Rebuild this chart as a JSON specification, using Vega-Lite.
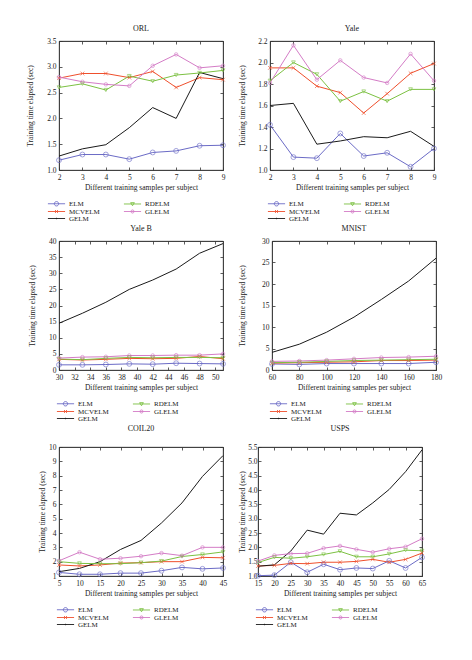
{
  "$schema": "https://vega.github.io/schema/vega-lite/v6.json",
  "background": "white",
  "padding": {"left": 26, "top": 24, "right": 0, "bottom": 0},
  "config": {
    "font": "Liberation Serif",
    "view": {"stroke": "#333", "strokeWidth": 0.8},
    "axis": {"labelFont": "Liberation Serif", "labelFontSize": 7.5, "labelColor": "#222", "titleFont": "Liberation Serif", "titleFontSize": 7.5, "titleFontWeight": "normal", "titleColor": "#222", "domainColor": "#333", "domainWidth": 0.8, "tickColor": "#333", "tickWidth": 0.8, "tickSize": -3, "labelPadding": 6, "grid": false, "labelFlush": false, "labelOverlap": false},
    "title": {"font": "Liberation Serif", "fontSize": 8, "fontWeight": "normal", "color": "#222", "offset": 4},
    "legend": {"orient": "none", "legendX": 3, "legendY": 159, "direction": "horizontal", "columns": 2, "title": null, "labelFont": "Liberation Serif", "labelFontSize": 7, "labelColor": "#222", "symbolSize": 36, "symbolStrokeWidth": 0.9, "symbolOpacity": 1, "labelOffset": 9, "columnPadding": 22, "rowPadding": -2}
  },
  "datasets": {
    "orl": [
      {"samples": 2, "method": "ELM", "time": 1.19}, {"samples": 3, "method": "ELM", "time": 1.30}, {"samples": 4, "method": "ELM", "time": 1.30}, {"samples": 5, "method": "ELM", "time": 1.21}, {"samples": 6, "method": "ELM", "time": 1.34}, {"samples": 7, "method": "ELM", "time": 1.37}, {"samples": 8, "method": "ELM", "time": 1.47}, {"samples": 9, "method": "ELM", "time": 1.48},
      {"samples": 2, "method": "MCVELM", "time": 2.78}, {"samples": 3, "method": "MCVELM", "time": 2.87}, {"samples": 4, "method": "MCVELM", "time": 2.87}, {"samples": 5, "method": "MCVELM", "time": 2.79}, {"samples": 6, "method": "MCVELM", "time": 2.91}, {"samples": 7, "method": "MCVELM", "time": 2.60}, {"samples": 8, "method": "MCVELM", "time": 2.79}, {"samples": 9, "method": "MCVELM", "time": 2.75},
      {"samples": 2, "method": "GELM", "time": 1.27}, {"samples": 3, "method": "GELM", "time": 1.41}, {"samples": 4, "method": "GELM", "time": 1.49}, {"samples": 5, "method": "GELM", "time": 1.82}, {"samples": 6, "method": "GELM", "time": 2.21}, {"samples": 7, "method": "GELM", "time": 2.00}, {"samples": 8, "method": "GELM", "time": 2.89}, {"samples": 9, "method": "GELM", "time": 2.77},
      {"samples": 2, "method": "RDELM", "time": 2.60}, {"samples": 3, "method": "RDELM", "time": 2.67}, {"samples": 4, "method": "RDELM", "time": 2.55}, {"samples": 5, "method": "RDELM", "time": 2.82}, {"samples": 6, "method": "RDELM", "time": 2.72}, {"samples": 7, "method": "RDELM", "time": 2.84}, {"samples": 8, "method": "RDELM", "time": 2.88}, {"samples": 9, "method": "RDELM", "time": 2.93},
      {"samples": 2, "method": "GLELM", "time": 2.80}, {"samples": 3, "method": "GLELM", "time": 2.71}, {"samples": 4, "method": "GLELM", "time": 2.66}, {"samples": 5, "method": "GLELM", "time": 2.63}, {"samples": 6, "method": "GLELM", "time": 3.02}, {"samples": 7, "method": "GLELM", "time": 3.24}, {"samples": 8, "method": "GLELM", "time": 2.98}, {"samples": 9, "method": "GLELM", "time": 3.02}
    ],
    "yale": [
      {"samples": 2, "method": "ELM", "time": 1.42}, {"samples": 3, "method": "ELM", "time": 1.12}, {"samples": 4, "method": "ELM", "time": 1.11}, {"samples": 5, "method": "ELM", "time": 1.34}, {"samples": 6, "method": "ELM", "time": 1.13}, {"samples": 7, "method": "ELM", "time": 1.16}, {"samples": 8, "method": "ELM", "time": 1.03}, {"samples": 9, "method": "ELM", "time": 1.20},
      {"samples": 2, "method": "MCVELM", "time": 1.95}, {"samples": 3, "method": "MCVELM", "time": 1.95}, {"samples": 4, "method": "MCVELM", "time": 1.78}, {"samples": 5, "method": "MCVELM", "time": 1.72}, {"samples": 6, "method": "MCVELM", "time": 1.53}, {"samples": 7, "method": "MCVELM", "time": 1.71}, {"samples": 8, "method": "MCVELM", "time": 1.90}, {"samples": 9, "method": "MCVELM", "time": 1.99},
      {"samples": 2, "method": "GELM", "time": 1.60}, {"samples": 3, "method": "GELM", "time": 1.62}, {"samples": 4, "method": "GELM", "time": 1.24}, {"samples": 5, "method": "GELM", "time": 1.27}, {"samples": 6, "method": "GELM", "time": 1.31}, {"samples": 7, "method": "GELM", "time": 1.30}, {"samples": 8, "method": "GELM", "time": 1.36}, {"samples": 9, "method": "GELM", "time": 1.22},
      {"samples": 2, "method": "RDELM", "time": 1.83}, {"samples": 3, "method": "RDELM", "time": 2.00}, {"samples": 4, "method": "RDELM", "time": 1.89}, {"samples": 5, "method": "RDELM", "time": 1.64}, {"samples": 6, "method": "RDELM", "time": 1.73}, {"samples": 7, "method": "RDELM", "time": 1.64}, {"samples": 8, "method": "RDELM", "time": 1.75}, {"samples": 9, "method": "RDELM", "time": 1.75},
      {"samples": 2, "method": "GLELM", "time": 1.81}, {"samples": 3, "method": "GLELM", "time": 2.16}, {"samples": 4, "method": "GLELM", "time": 1.84}, {"samples": 5, "method": "GLELM", "time": 2.02}, {"samples": 6, "method": "GLELM", "time": 1.86}, {"samples": 7, "method": "GLELM", "time": 1.81}, {"samples": 8, "method": "GLELM", "time": 2.08}, {"samples": 9, "method": "GLELM", "time": 1.83}
    ],
    "yaleb": [
      {"samples": 30, "method": "ELM", "time": 1.6}, {"samples": 33, "method": "ELM", "time": 1.6}, {"samples": 36, "method": "ELM", "time": 1.7}, {"samples": 39, "method": "ELM", "time": 1.9}, {"samples": 42, "method": "ELM", "time": 1.8}, {"samples": 45, "method": "ELM", "time": 2.1}, {"samples": 48, "method": "ELM", "time": 2.0}, {"samples": 51, "method": "ELM", "time": 1.9},
      {"samples": 30, "method": "MCVELM", "time": 3.3}, {"samples": 33, "method": "MCVELM", "time": 3.1}, {"samples": 36, "method": "MCVELM", "time": 3.3}, {"samples": 39, "method": "MCVELM", "time": 3.6}, {"samples": 42, "method": "MCVELM", "time": 3.5}, {"samples": 45, "method": "MCVELM", "time": 3.6}, {"samples": 48, "method": "MCVELM", "time": 4.2}, {"samples": 51, "method": "MCVELM", "time": 3.5},
      {"samples": 30, "method": "GELM", "time": 14.5}, {"samples": 33, "method": "GELM", "time": 17.6}, {"samples": 36, "method": "GELM", "time": 21.0}, {"samples": 39, "method": "GELM", "time": 25.0}, {"samples": 42, "method": "GELM", "time": 27.9}, {"samples": 45, "method": "GELM", "time": 31.3}, {"samples": 48, "method": "GELM", "time": 36.2}, {"samples": 51, "method": "GELM", "time": 39.2},
      {"samples": 30, "method": "RDELM", "time": 3.4}, {"samples": 33, "method": "RDELM", "time": 3.2}, {"samples": 36, "method": "RDELM", "time": 3.6}, {"samples": 39, "method": "RDELM", "time": 3.9}, {"samples": 42, "method": "RDELM", "time": 3.8}, {"samples": 45, "method": "RDELM", "time": 3.9}, {"samples": 48, "method": "RDELM", "time": 3.9}, {"samples": 51, "method": "RDELM", "time": 3.8},
      {"samples": 30, "method": "GLELM", "time": 3.7}, {"samples": 33, "method": "GLELM", "time": 4.0}, {"samples": 36, "method": "GLELM", "time": 4.1}, {"samples": 39, "method": "GLELM", "time": 4.5}, {"samples": 42, "method": "GLELM", "time": 4.5}, {"samples": 45, "method": "GLELM", "time": 4.6}, {"samples": 48, "method": "GLELM", "time": 4.6}, {"samples": 51, "method": "GLELM", "time": 5.0}
    ],
    "mnist": [
      {"samples": 60, "method": "ELM", "time": 1.4}, {"samples": 80, "method": "ELM", "time": 1.3}, {"samples": 100, "method": "ELM", "time": 1.5}, {"samples": 120, "method": "ELM", "time": 1.5}, {"samples": 140, "method": "ELM", "time": 1.5}, {"samples": 160, "method": "ELM", "time": 1.5}, {"samples": 180, "method": "ELM", "time": 1.8},
      {"samples": 60, "method": "MCVELM", "time": 1.6}, {"samples": 80, "method": "MCVELM", "time": 1.7}, {"samples": 100, "method": "MCVELM", "time": 1.8}, {"samples": 120, "method": "MCVELM", "time": 1.9}, {"samples": 140, "method": "MCVELM", "time": 2.2}, {"samples": 160, "method": "MCVELM", "time": 2.2}, {"samples": 180, "method": "MCVELM", "time": 2.3},
      {"samples": 60, "method": "GELM", "time": 4.1}, {"samples": 80, "method": "GELM", "time": 6.0}, {"samples": 100, "method": "GELM", "time": 8.8}, {"samples": 120, "method": "GELM", "time": 12.3}, {"samples": 140, "method": "GELM", "time": 16.4}, {"samples": 160, "method": "GELM", "time": 20.7}, {"samples": 180, "method": "GELM", "time": 26.0},
      {"samples": 60, "method": "RDELM", "time": 1.7}, {"samples": 80, "method": "RDELM", "time": 1.8}, {"samples": 100, "method": "RDELM", "time": 2.0}, {"samples": 120, "method": "RDELM", "time": 2.2}, {"samples": 140, "method": "RDELM", "time": 2.3}, {"samples": 160, "method": "RDELM", "time": 2.4}, {"samples": 180, "method": "RDELM", "time": 2.5},
      {"samples": 60, "method": "GLELM", "time": 2.0}, {"samples": 80, "method": "GLELM", "time": 2.1}, {"samples": 100, "method": "GLELM", "time": 2.3}, {"samples": 120, "method": "GLELM", "time": 2.6}, {"samples": 140, "method": "GLELM", "time": 2.9}, {"samples": 160, "method": "GLELM", "time": 3.0}, {"samples": 180, "method": "GLELM", "time": 3.2}
    ],
    "coil20": [
      {"samples": 5, "method": "ELM", "time": 1.25}, {"samples": 10, "method": "ELM", "time": 1.12}, {"samples": 15, "method": "ELM", "time": 1.12}, {"samples": 20, "method": "ELM", "time": 1.2}, {"samples": 25, "method": "ELM", "time": 1.2}, {"samples": 30, "method": "ELM", "time": 1.37}, {"samples": 35, "method": "ELM", "time": 1.6}, {"samples": 40, "method": "ELM", "time": 1.5}, {"samples": 45, "method": "ELM", "time": 1.56},
      {"samples": 5, "method": "MCVELM", "time": 1.77}, {"samples": 10, "method": "MCVELM", "time": 1.7}, {"samples": 15, "method": "MCVELM", "time": 1.77}, {"samples": 20, "method": "MCVELM", "time": 1.9}, {"samples": 25, "method": "MCVELM", "time": 1.93}, {"samples": 30, "method": "MCVELM", "time": 2.0}, {"samples": 35, "method": "MCVELM", "time": 2.0}, {"samples": 40, "method": "MCVELM", "time": 2.3}, {"samples": 45, "method": "MCVELM", "time": 2.27},
      {"samples": 5, "method": "GELM", "time": 1.3}, {"samples": 10, "method": "GELM", "time": 1.53}, {"samples": 15, "method": "GELM", "time": 2.0}, {"samples": 20, "method": "GELM", "time": 2.85}, {"samples": 25, "method": "GELM", "time": 3.48}, {"samples": 30, "method": "GELM", "time": 4.7}, {"samples": 35, "method": "GELM", "time": 6.1}, {"samples": 40, "method": "GELM", "time": 7.95}, {"samples": 45, "method": "GELM", "time": 9.4},
      {"samples": 5, "method": "RDELM", "time": 2.0}, {"samples": 10, "method": "RDELM", "time": 1.88}, {"samples": 15, "method": "RDELM", "time": 1.86}, {"samples": 20, "method": "RDELM", "time": 1.86}, {"samples": 25, "method": "RDELM", "time": 1.93}, {"samples": 30, "method": "RDELM", "time": 2.04}, {"samples": 35, "method": "RDELM", "time": 2.36}, {"samples": 40, "method": "RDELM", "time": 2.5}, {"samples": 45, "method": "RDELM", "time": 2.68},
      {"samples": 5, "method": "GLELM", "time": 2.06}, {"samples": 10, "method": "GLELM", "time": 2.66}, {"samples": 15, "method": "GLELM", "time": 2.17}, {"samples": 20, "method": "GLELM", "time": 2.24}, {"samples": 25, "method": "GLELM", "time": 2.38}, {"samples": 30, "method": "GLELM", "time": 2.6}, {"samples": 35, "method": "GLELM", "time": 2.42}, {"samples": 40, "method": "GLELM", "time": 3.0}, {"samples": 45, "method": "GLELM", "time": 3.0}
    ],
    "usps": [
      {"samples": 15, "method": "ELM", "time": 1.01}, {"samples": 20, "method": "ELM", "time": 1.03}, {"samples": 25, "method": "ELM", "time": 1.48}, {"samples": 30, "method": "ELM", "time": 1.13}, {"samples": 35, "method": "ELM", "time": 1.41}, {"samples": 40, "method": "ELM", "time": 1.22}, {"samples": 45, "method": "ELM", "time": 1.28}, {"samples": 50, "method": "ELM", "time": 1.26}, {"samples": 55, "method": "ELM", "time": 1.53}, {"samples": 60, "method": "ELM", "time": 1.28}, {"samples": 65, "method": "ELM", "time": 1.65},
      {"samples": 15, "method": "MCVELM", "time": 1.35}, {"samples": 20, "method": "MCVELM", "time": 1.37}, {"samples": 25, "method": "MCVELM", "time": 1.44}, {"samples": 30, "method": "MCVELM", "time": 1.43}, {"samples": 35, "method": "MCVELM", "time": 1.48}, {"samples": 40, "method": "MCVELM", "time": 1.48}, {"samples": 45, "method": "MCVELM", "time": 1.51}, {"samples": 50, "method": "MCVELM", "time": 1.58}, {"samples": 55, "method": "MCVELM", "time": 1.48}, {"samples": 60, "method": "MCVELM", "time": 1.58}, {"samples": 65, "method": "MCVELM", "time": 1.8},
      {"samples": 15, "method": "GELM", "time": 1.34}, {"samples": 20, "method": "GELM", "time": 1.39}, {"samples": 25, "method": "GELM", "time": 1.87}, {"samples": 30, "method": "GELM", "time": 2.6}, {"samples": 35, "method": "GELM", "time": 2.46}, {"samples": 40, "method": "GELM", "time": 3.19}, {"samples": 45, "method": "GELM", "time": 3.13}, {"samples": 50, "method": "GELM", "time": 3.55}, {"samples": 55, "method": "GELM", "time": 4.02}, {"samples": 60, "method": "GELM", "time": 4.64}, {"samples": 65, "method": "GELM", "time": 5.4},
      {"samples": 15, "method": "RDELM", "time": 1.47}, {"samples": 20, "method": "RDELM", "time": 1.65}, {"samples": 25, "method": "RDELM", "time": 1.62}, {"samples": 30, "method": "RDELM", "time": 1.67}, {"samples": 35, "method": "RDELM", "time": 1.75}, {"samples": 40, "method": "RDELM", "time": 1.86}, {"samples": 45, "method": "RDELM", "time": 1.67}, {"samples": 50, "method": "RDELM", "time": 1.67}, {"samples": 55, "method": "RDELM", "time": 1.77}, {"samples": 60, "method": "RDELM", "time": 1.9}, {"samples": 65, "method": "RDELM", "time": 1.88},
      {"samples": 15, "method": "GLELM", "time": 1.52}, {"samples": 20, "method": "GLELM", "time": 1.72}, {"samples": 25, "method": "GLELM", "time": 1.78}, {"samples": 30, "method": "GLELM", "time": 1.79}, {"samples": 35, "method": "GLELM", "time": 1.97}, {"samples": 40, "method": "GLELM", "time": 2.05}, {"samples": 45, "method": "GLELM", "time": 1.93}, {"samples": 50, "method": "GLELM", "time": 1.83}, {"samples": 55, "method": "GLELM", "time": 1.95}, {"samples": 60, "method": "GLELM", "time": 2.02}, {"samples": 65, "method": "GLELM", "time": 2.3}
    ]
  },
  "resolve": {"scale": {"color": "independent", "shape": "independent"}, "legend": {"color": "independent", "shape": "independent"}},
  "columns": 2,
  "align": "none",
  "spacing": {"row": 1, "column": 6},
  "concat": [
    {
      "title": "ORL", "width": 164, "height": 129, "data": {"name": "orl"},
      "layer": [
        {"mark": {"type": "line", "strokeWidth": 1},
         "encoding": {
           "x": {"field": "samples", "type": "quantitative", "scale": {"domain": [2, 9], "nice": false, "zero": false}, "axis": {"values": [2, 3, 4, 5, 6, 7, 8, 9], "title": "Different training samples per subject", "titlePadding": 3}},
           "y": {"field": "time", "type": "quantitative", "scale": {"domain": [1, 3.5], "nice": false, "zero": false}, "axis": {"values": [1, 1.5, 2, 2.5, 3, 3.5], "title": "Training time elapsed (sec)", "titlePadding": 12}},
           "color": {"field": "method", "type": "nominal", "scale": {"domain": ["ELM", "RDELM", "MCVELM", "GLELM", "GELM"], "range": ["#6b6bc6", "#7cc142", "#ef4f2c", "#d47cc6", "#1a1a1a"]}}}},
        {"mark": {"type": "point", "filled": false, "strokeWidth": 0.9},
         "transform": [{"filter": "datum.method !== 'GELM'"}],
         "encoding": {
           "x": {"field": "samples", "type": "quantitative", "axis": null},
           "y": {"field": "time", "type": "quantitative", "axis": null},
           "color": {"field": "method", "type": "nominal"},
           "shape": {"condition": [{"test": "datum.method === 'MCVELM'", "value": "M-1,-1L1,1M-1,1L1,-1"}, {"test": "datum.method === 'RDELM'", "value": "triangle-down"}], "value": "circle"},
           "size": {"condition": [{"test": "datum.method === 'ELM'", "value": 24}, {"test": "datum.method === 'GLELM'", "value": 12}], "value": 14}}},
        {"mark": {"type": "point", "filled": false, "opacity": 0},
         "encoding": {
           "x": {"field": "samples", "type": "quantitative", "axis": {"orient": "top", "labels": false, "title": null, "values": [2, 3, 4, 5, 6, 7, 8, 9]}},
           "y": {"field": "time", "type": "quantitative", "axis": {"orient": "right", "labels": false, "title": null, "values": [1, 1.5, 2, 2.5, 3, 3.5]}},
           "color": {"field": "method", "type": "nominal", "legend": {"legendX": -6}},
           "shape": {"field": "method", "type": "nominal", "scale": {"domain": ["ELM", "RDELM", "MCVELM", "GLELM", "GELM"], "range": ["M-2.86,0H2.86M0.73,0A0.73,0.73,0,1,1,-0.73,0A0.73,0.73,0,1,1,0.73,0", "M-2.86,0H2.86M-0.62,-0.43L0.62,-0.43L0,0.58Z", "M-2.86,0H2.86M-0.47,-0.47L0.47,0.47M-0.47,0.47L0.47,-0.47", "M-2.86,0H2.86M0.52,0A0.52,0.52,0,1,1,-0.52,0A0.52,0.52,0,1,1,0.52,0", "M-2.86,0H2.86M0.13,0A0.13,0.13,0,1,1,-0.13,0A0.13,0.13,0,1,1,0.13,0"]}, "legend": {"legendX": -6}}}}
      ],
      "resolve": {"axis": {"x": "independent", "y": "independent"}}
    },
    {
      "title": "Yale", "width": 164, "height": 129, "data": {"name": "yale"},
      "layer": [
        {"mark": {"type": "line", "strokeWidth": 1},
         "encoding": {
           "x": {"field": "samples", "type": "quantitative", "scale": {"domain": [2, 9], "nice": false, "zero": false}, "axis": {"values": [2, 3, 4, 5, 6, 7, 8, 9], "title": "Different training samples per subject", "titlePadding": 3}},
           "y": {"field": "time", "type": "quantitative", "scale": {"domain": [1, 2.2], "nice": false, "zero": false}, "axis": {"values": [1, 1.2, 1.4, 1.6, 1.8, 2, 2.2], "title": "Training time elapsed (sec)", "titlePadding": 11}},
           "color": {"field": "method", "type": "nominal", "scale": {"domain": ["ELM", "RDELM", "MCVELM", "GLELM", "GELM"], "range": ["#6b6bc6", "#7cc142", "#ef4f2c", "#d47cc6", "#1a1a1a"]}}}},
        {"mark": {"type": "point", "filled": false, "strokeWidth": 0.9},
         "transform": [{"filter": "datum.method !== 'GELM'"}],
         "encoding": {
           "x": {"field": "samples", "type": "quantitative", "axis": null},
           "y": {"field": "time", "type": "quantitative", "axis": null},
           "color": {"field": "method", "type": "nominal"},
           "shape": {"condition": [{"test": "datum.method === 'MCVELM'", "value": "M-1,-1L1,1M-1,1L1,-1"}, {"test": "datum.method === 'RDELM'", "value": "triangle-down"}], "value": "circle"},
           "size": {"condition": [{"test": "datum.method === 'ELM'", "value": 24}, {"test": "datum.method === 'GLELM'", "value": 12}], "value": 14}}},
        {"mark": {"type": "point", "filled": false, "opacity": 0},
         "encoding": {
           "x": {"field": "samples", "type": "quantitative", "axis": {"orient": "top", "labels": false, "title": null, "values": [2, 3, 4, 5, 6, 7, 8, 9]}},
           "y": {"field": "time", "type": "quantitative", "axis": {"orient": "right", "labels": false, "title": null, "values": [1, 1.2, 1.4, 1.6, 1.8, 2, 2.2]}},
           "color": {"field": "method", "type": "nominal"},
           "shape": {"field": "method", "type": "nominal", "scale": {"domain": ["ELM", "RDELM", "MCVELM", "GLELM", "GELM"], "range": ["M-2.86,0H2.86M0.73,0A0.73,0.73,0,1,1,-0.73,0A0.73,0.73,0,1,1,0.73,0", "M-2.86,0H2.86M-0.62,-0.43L0.62,-0.43L0,0.58Z", "M-2.86,0H2.86M-0.47,-0.47L0.47,0.47M-0.47,0.47L0.47,-0.47", "M-2.86,0H2.86M0.52,0A0.52,0.52,0,1,1,-0.52,0A0.52,0.52,0,1,1,0.52,0", "M-2.86,0H2.86M0.13,0A0.13,0.13,0,1,1,-0.13,0A0.13,0.13,0,1,1,0.13,0"]}}}}
      ],
      "resolve": {"axis": {"x": "independent", "y": "independent"}}
    },
    {
      "title": "Yale B", "width": 164, "height": 129, "data": {"name": "yaleb"},
      "layer": [
        {"mark": {"type": "line", "strokeWidth": 1},
         "encoding": {
           "x": {"field": "samples", "type": "quantitative", "scale": {"domain": [30, 51], "nice": false, "zero": false}, "axis": {"values": [30, 32, 34, 36, 38, 40, 42, 44, 46, 48, 50], "title": "Different training samples per subject", "titlePadding": 3}},
           "y": {"field": "time", "type": "quantitative", "scale": {"domain": [0, 40], "nice": false}, "axis": {"values": [0, 5, 10, 15, 20, 25, 30, 35, 40], "title": "Training time elapsed (sec)", "titlePadding": 12}},
           "color": {"field": "method", "type": "nominal", "scale": {"domain": ["ELM", "RDELM", "MCVELM", "GLELM", "GELM"], "range": ["#6b6bc6", "#7cc142", "#ef4f2c", "#d47cc6", "#1a1a1a"]}}}},
        {"mark": {"type": "point", "filled": false, "strokeWidth": 0.9},
         "transform": [{"filter": "datum.method !== 'GELM'"}],
         "encoding": {
           "x": {"field": "samples", "type": "quantitative", "axis": null},
           "y": {"field": "time", "type": "quantitative", "axis": null},
           "color": {"field": "method", "type": "nominal"},
           "shape": {"condition": [{"test": "datum.method === 'MCVELM'", "value": "M-1,-1L1,1M-1,1L1,-1"}, {"test": "datum.method === 'RDELM'", "value": "triangle-down"}], "value": "circle"},
           "size": {"condition": [{"test": "datum.method === 'ELM'", "value": 24}, {"test": "datum.method === 'GLELM'", "value": 12}], "value": 14}}},
        {"mark": {"type": "point", "filled": false, "opacity": 0},
         "encoding": {
           "x": {"field": "samples", "type": "quantitative", "axis": {"orient": "top", "labels": false, "title": null, "values": [30, 32, 34, 36, 38, 40, 42, 44, 46, 48, 50]}},
           "y": {"field": "time", "type": "quantitative", "axis": {"orient": "right", "labels": false, "title": null, "values": [0, 5, 10, 15, 20, 25, 30, 35, 40]}},
           "color": {"field": "method", "type": "nominal"},
           "shape": {"field": "method", "type": "nominal", "scale": {"domain": ["ELM", "RDELM", "MCVELM", "GLELM", "GELM"], "range": ["M-2.86,0H2.86M0.73,0A0.73,0.73,0,1,1,-0.73,0A0.73,0.73,0,1,1,0.73,0", "M-2.86,0H2.86M-0.62,-0.43L0.62,-0.43L0,0.58Z", "M-2.86,0H2.86M-0.47,-0.47L0.47,0.47M-0.47,0.47L0.47,-0.47", "M-2.86,0H2.86M0.52,0A0.52,0.52,0,1,1,-0.52,0A0.52,0.52,0,1,1,0.52,0", "M-2.86,0H2.86M0.13,0A0.13,0.13,0,1,1,-0.13,0A0.13,0.13,0,1,1,0.13,0"]}}}}
      ],
      "resolve": {"axis": {"x": "independent", "y": "independent"}}
    },
    {
      "title": "MNIST", "width": 164, "height": 129, "data": {"name": "mnist"},
      "layer": [
        {"mark": {"type": "line", "strokeWidth": 1},
         "encoding": {
           "x": {"field": "samples", "type": "quantitative", "scale": {"domain": [60, 180], "nice": false, "zero": false}, "axis": {"values": [60, 80, 100, 120, 140, 160, 180], "title": "Different training samples per subject", "titlePadding": 3}},
           "y": {"field": "time", "type": "quantitative", "scale": {"domain": [0, 30], "nice": false}, "axis": {"values": [0, 5, 10, 15, 20, 25, 30], "title": "Training time elapsed (sec)", "titlePadding": 15}},
           "color": {"field": "method", "type": "nominal", "scale": {"domain": ["ELM", "RDELM", "MCVELM", "GLELM", "GELM"], "range": ["#6b6bc6", "#7cc142", "#ef4f2c", "#d47cc6", "#1a1a1a"]}}}},
        {"mark": {"type": "point", "filled": false, "strokeWidth": 0.9},
         "transform": [{"filter": "datum.method !== 'GELM'"}],
         "encoding": {
           "x": {"field": "samples", "type": "quantitative", "axis": null},
           "y": {"field": "time", "type": "quantitative", "axis": null},
           "color": {"field": "method", "type": "nominal"},
           "shape": {"condition": [{"test": "datum.method === 'MCVELM'", "value": "M-1,-1L1,1M-1,1L1,-1"}, {"test": "datum.method === 'RDELM'", "value": "triangle-down"}], "value": "circle"},
           "size": {"condition": [{"test": "datum.method === 'ELM'", "value": 24}, {"test": "datum.method === 'GLELM'", "value": 12}], "value": 14}}},
        {"mark": {"type": "point", "filled": false, "opacity": 0},
         "encoding": {
           "x": {"field": "samples", "type": "quantitative", "axis": {"orient": "top", "labels": false, "title": null, "values": [60, 80, 100, 120, 140, 160, 180]}},
           "y": {"field": "time", "type": "quantitative", "axis": {"orient": "right", "labels": false, "title": null, "values": [0, 5, 10, 15, 20, 25, 30]}},
           "color": {"field": "method", "type": "nominal"},
           "shape": {"field": "method", "type": "nominal", "scale": {"domain": ["ELM", "RDELM", "MCVELM", "GLELM", "GELM"], "range": ["M-2.86,0H2.86M0.73,0A0.73,0.73,0,1,1,-0.73,0A0.73,0.73,0,1,1,0.73,0", "M-2.86,0H2.86M-0.62,-0.43L0.62,-0.43L0,0.58Z", "M-2.86,0H2.86M-0.47,-0.47L0.47,0.47M-0.47,0.47L0.47,-0.47", "M-2.86,0H2.86M0.52,0A0.52,0.52,0,1,1,-0.52,0A0.52,0.52,0,1,1,0.52,0", "M-2.86,0H2.86M0.13,0A0.13,0.13,0,1,1,-0.13,0A0.13,0.13,0,1,1,0.13,0"]}}}}
      ],
      "resolve": {"axis": {"x": "independent", "y": "independent"}}
    },
    {
      "title": {"text": "COIL20", "offset": 10}, "width": 164, "height": 129, "data": {"name": "coil20"},
      "layer": [
        {"mark": {"type": "line", "strokeWidth": 1},
         "encoding": {
           "x": {"field": "samples", "type": "quantitative", "scale": {"domain": [5, 45], "nice": false, "zero": false}, "axis": {"values": [5, 10, 15, 20, 25, 30, 35, 40, 45], "title": "Different training samples per subject", "titlePadding": 3}},
           "y": {"field": "time", "type": "quantitative", "scale": {"domain": [1, 10], "nice": false, "zero": false}, "axis": {"values": [1, 2, 3, 4, 5, 6, 7, 8, 9, 10], "title": "Training time elapsed (sec)", "titlePadding": 2}},
           "color": {"field": "method", "type": "nominal", "scale": {"domain": ["ELM", "RDELM", "MCVELM", "GLELM", "GELM"], "range": ["#6b6bc6", "#7cc142", "#ef4f2c", "#d47cc6", "#1a1a1a"]}}}},
        {"mark": {"type": "point", "filled": false, "strokeWidth": 0.9},
         "transform": [{"filter": "datum.method !== 'GELM'"}],
         "encoding": {
           "x": {"field": "samples", "type": "quantitative", "axis": null},
           "y": {"field": "time", "type": "quantitative", "axis": null},
           "color": {"field": "method", "type": "nominal"},
           "shape": {"condition": [{"test": "datum.method === 'MCVELM'", "value": "M-1,-1L1,1M-1,1L1,-1"}, {"test": "datum.method === 'RDELM'", "value": "triangle-down"}], "value": "circle"},
           "size": {"condition": [{"test": "datum.method === 'ELM'", "value": 24}, {"test": "datum.method === 'GLELM'", "value": 12}], "value": 14}}},
        {"mark": {"type": "point", "filled": false, "opacity": 0},
         "encoding": {
           "x": {"field": "samples", "type": "quantitative", "axis": {"orient": "top", "labels": false, "title": null, "values": [5, 10, 15, 20, 25, 30, 35, 40, 45]}},
           "y": {"field": "time", "type": "quantitative", "axis": {"orient": "right", "labels": false, "title": null, "values": [1, 2, 3, 4, 5, 6, 7, 8, 9, 10]}},
           "color": {"field": "method", "type": "nominal"},
           "shape": {"field": "method", "type": "nominal", "scale": {"domain": ["ELM", "RDELM", "MCVELM", "GLELM", "GELM"], "range": ["M-2.86,0H2.86M0.73,0A0.73,0.73,0,1,1,-0.73,0A0.73,0.73,0,1,1,0.73,0", "M-2.86,0H2.86M-0.62,-0.43L0.62,-0.43L0,0.58Z", "M-2.86,0H2.86M-0.47,-0.47L0.47,0.47M-0.47,0.47L0.47,-0.47", "M-2.86,0H2.86M0.52,0A0.52,0.52,0,1,1,-0.52,0A0.52,0.52,0,1,1,0.52,0", "M-2.86,0H2.86M0.13,0A0.13,0.13,0,1,1,-0.13,0A0.13,0.13,0,1,1,0.13,0"]}}}}
      ],
      "resolve": {"axis": {"x": "independent", "y": "independent"}}
    },
    {
      "title": {"text": "USPS", "offset": 10}, "width": 164, "height": 129, "data": {"name": "usps"},
      "layer": [
        {"mark": {"type": "line", "strokeWidth": 1},
         "encoding": {
           "x": {"field": "samples", "type": "quantitative", "scale": {"domain": [15, 65], "nice": false, "zero": false}, "axis": {"values": [15, 20, 25, 30, 35, 40, 45, 50, 55, 60, 65], "title": "Different training samples per subject", "titlePadding": 3}},
           "y": {"field": "time", "type": "quantitative", "scale": {"domain": [1, 5.5], "nice": false, "zero": false}, "axis": {"values": [1, 1.5, 2, 2.5, 3, 3.5, 4, 4.5, 5, 5.5], "title": "Training time elapsed (sec)", "titlePadding": 1, "labelPadding": 4}},
           "color": {"field": "method", "type": "nominal", "scale": {"domain": ["ELM", "RDELM", "MCVELM", "GLELM", "GELM"], "range": ["#6b6bc6", "#7cc142", "#ef4f2c", "#d47cc6", "#1a1a1a"]}}}},
        {"mark": {"type": "point", "filled": false, "strokeWidth": 0.9},
         "transform": [{"filter": "datum.method !== 'GELM'"}],
         "encoding": {
           "x": {"field": "samples", "type": "quantitative", "axis": null},
           "y": {"field": "time", "type": "quantitative", "axis": null},
           "color": {"field": "method", "type": "nominal"},
           "shape": {"condition": [{"test": "datum.method === 'MCVELM'", "value": "M-1,-1L1,1M-1,1L1,-1"}, {"test": "datum.method === 'RDELM'", "value": "triangle-down"}], "value": "circle"},
           "size": {"condition": [{"test": "datum.method === 'ELM'", "value": 24}, {"test": "datum.method === 'GLELM'", "value": 12}], "value": 14}}},
        {"mark": {"type": "point", "filled": false, "opacity": 0},
         "encoding": {
           "x": {"field": "samples", "type": "quantitative", "axis": {"orient": "top", "labels": false, "title": null, "values": [15, 20, 25, 30, 35, 40, 45, 50, 55, 60, 65]}},
           "y": {"field": "time", "type": "quantitative", "axis": {"orient": "right", "labels": false, "title": null, "values": [1, 1.5, 2, 2.5, 3, 3.5, 4, 4.5, 5, 5.5]}},
           "color": {"field": "method", "type": "nominal"},
           "shape": {"field": "method", "type": "nominal", "scale": {"domain": ["ELM", "RDELM", "MCVELM", "GLELM", "GELM"], "range": ["M-2.86,0H2.86M0.73,0A0.73,0.73,0,1,1,-0.73,0A0.73,0.73,0,1,1,0.73,0", "M-2.86,0H2.86M-0.62,-0.43L0.62,-0.43L0,0.58Z", "M-2.86,0H2.86M-0.47,-0.47L0.47,0.47M-0.47,0.47L0.47,-0.47", "M-2.86,0H2.86M0.52,0A0.52,0.52,0,1,1,-0.52,0A0.52,0.52,0,1,1,0.52,0", "M-2.86,0H2.86M0.13,0A0.13,0.13,0,1,1,-0.13,0A0.13,0.13,0,1,1,0.13,0"]}}}}
      ],
      "resolve": {"axis": {"x": "independent", "y": "independent"}}
    }
  ]
}
